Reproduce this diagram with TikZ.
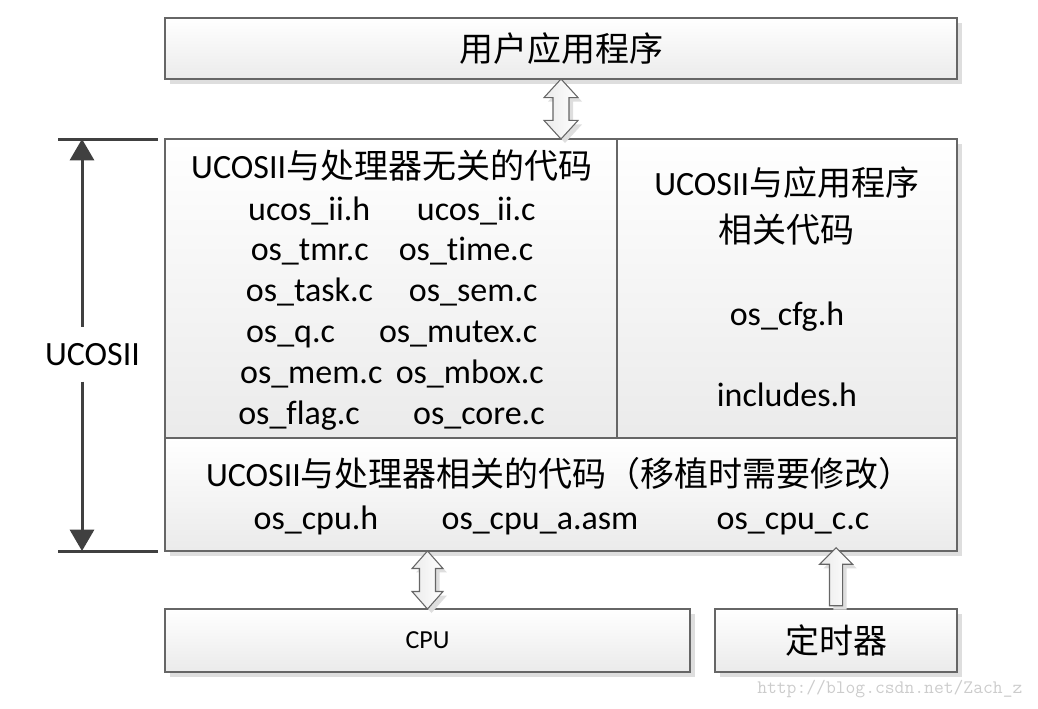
\documentclass[tikz,border=0pt]{standalone}
\usepackage{fontspec}
\setmainfont{Carlito}[Ligatures={NoCommon}]
\newfontfamily\cjk{Noto Sans CJK SC}
\usepackage{tikz}
\usetikzlibrary{arrows.meta, shapes.arrows, shadows, calc}
\newcommand\txtsize{\fontsize{25.5pt}{30.6pt}\selectfont}

\begin{document}
\begin{tikzpicture}[x=0.75pt,y=0.75pt,yscale=-1,
  box/.style={draw=black!60, line width=1pt, top color=white, bottom color=black!8,
    inner sep=0pt, font=\txtsize,
    drop shadow={shadow xshift=3.75pt, shadow yshift=-3.75pt, fill=black!13, opacity=1}},
  txt/.style={anchor=base, inner sep=0pt, font=\txtsize},
  blockarrow/.style={draw=black!60, line width=0.8pt, left color=black!8, right color=white,
    inner xsep=0pt, rotate=90,
    drop shadow={shadow xshift=3pt, shadow yshift=-3pt, fill=black!13, opacity=1}},
  dimline/.style={draw=black!75, line width=2.25pt}]
\useasboundingbox (0,0) rectangle (1038,708);

%Boxes
\node[box, minimum width=594pt, minimum height=45.75pt] (app) at (561,48.5) {\cjk 用户应用程序};
\node[box, minimum width=339pt, minimum height=224.25pt] (indep) at (391,288.5) {};
\node[box, minimum width=255pt, minimum height=224.25pt] (cfg) at (787,288.5) {};
\node[box, minimum width=594pt, minimum height=84.75pt] (port) at (561,494.5) {};
\node[box, minimum width=393.75pt, minimum height=47.25pt, font=\fontsize{19.5pt}{23pt}\selectfont] (cpu) at (427.5,640.5) {CPU};
\node[box, minimum width=181.5pt, minimum height=47.25pt] (timer) at (836,640.5) {\cjk 定时器};

% Text Node
\node[txt] (indeptitle) at (391.7,178) {UCOSII\cjk 与处理器无关的代码};
% Text Node
\node[txt] (fileA) at (392,220) {ucos\_ii.h\hspace{35pt}ucos\_ii.c};
% Text Node
\node[txt] (fileB) at (392,260.7) {os\_tmr.c\hspace{22.5pt}os\_time.c};
% Text Node
\node[txt] (fileC) at (391.7,301.7) {os\_task.c\hspace{27pt}os\_sem.c};
% Text Node
\node[txt] (fileD) at (391.7,342.7) {os\_q.c\hspace{33pt}os\_mutex.c};
% Text Node
\node[txt] (fileE) at (392,383.3) {os\_mem.c\hspace{10pt}os\_mbox.c};
% Text Node
\node[txt] (fileF) at (391.5,424) {os\_flag.c\hspace{40pt}os\_core.c};

% Text Node
\node[txt] (cfgtitle) at (786.7,195.7) {UCOSII\cjk 与应用程序};
% Text Node
\node[txt] (cfgtitleb) at (786.7,242.7) {\cjk 相关代码};
% Text Node
\node[txt] (cfgh) at (787,325.7) {os\_cfg.h};
% Text Node
\node[txt] (inch) at (787,406.7) {includes.h};

% Text Node
\node[txt] (porttitle) at (559.5,486.7) {UCOSII\cjk 与处理器相关的代码（移植时需要修改）};
% Text Node
\node[txt] (cpuh) at (316,529.3) {os\_cpu.h};
% Text Node
\node[txt] (cpuasm) at (540,529.3) {os\_cpu\_a.asm};
% Text Node
\node[txt] (cpuc) at (793,529.3) {os\_cpu\_c.c};

%Block arrows
\node[blockarrow, double arrow, minimum height=45pt, inner ysep=5.6pt, double arrow head extend=6.75pt, double arrow tip angle=85] (appio) at ($(app.south)!.5!(app.south |- indep.north)$) {};
\node[blockarrow, double arrow, minimum height=43.5pt, inner ysep=5.6pt, double arrow head extend=5.6pt, double arrow tip angle=83] (cpuio) at ($(cpu.north)!.5!(cpu.north |- port.south)$) {};
\node[blockarrow, single arrow, minimum height=43.5pt, inner ysep=4.5pt, single arrow head extend=7.5pt, single arrow tip angle=90] (tick) at ($(timer.north)!.5!(timer.north |- port.south)$) {};

%Dimension
\coordinate (dimtop) at (82,139);
\coordinate (dimbot) at (82,551);
\draw[dimline] (58,139) -- (158,139);
\draw[dimline] (58,551) -- (158,551);
\node[txt, inner ysep=12pt] (ucos) at (92.5,365) {UCOSII};
\draw[dimline, -{Triangle[width=18pt,length=16pt]}] (ucos.north -| dimtop) -- (dimtop);
\draw[dimline, -{Triangle[width=18pt,length=16pt]}] (ucos.south -| dimbot) -- (dimbot);

% Text Node
\node[anchor=base west, inner sep=0pt, font=\ttfamily\fontsize{14.3pt}{16pt}\selectfont, text=black!20] (mark) at (757,693.3) {http://blog.csdn.net/Zach\_z};

\end{tikzpicture}
\end{document}
